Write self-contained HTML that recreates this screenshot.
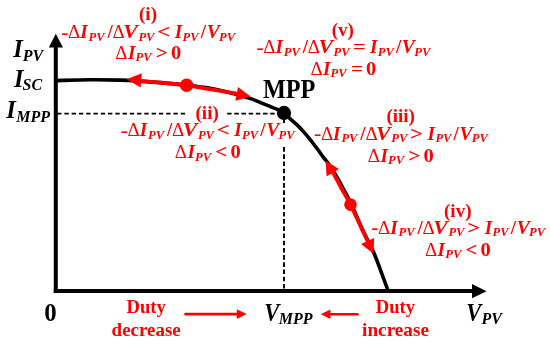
<!DOCTYPE html>
<html><head><meta charset="utf-8"><title>MPPT duty cycle regions</title>
<style>
html,body{margin:0;padding:0;background:#fff;width:550px;height:343px;overflow:hidden}
svg{display:block}
text{font-family:"Liberation Serif","Times New Roman",serif}
</style></head><body>
<svg width="550" height="343" viewBox="0 0 550 343">
<rect width="550" height="343" fill="#fff"/>
<line x1="57.1" y1="113.6" x2="186.2" y2="113.6" stroke="#000" stroke-width="1.9" stroke-dasharray="4.4 2.87"/>
<line x1="227.1" y1="113.6" x2="284" y2="113.6" stroke="#000" stroke-width="1.9" stroke-dasharray="4.5 2.68"/>
<line x1="284.0" y1="118.3" x2="284.0" y2="290" stroke="#000" stroke-width="1.9" stroke-dasharray="4.6 2.6"/>
<rect x="276" y="123.8" width="18" height="22.2" fill="#fff"/>
<line x1="55.8" y1="293.1" x2="55.8" y2="46" stroke="#000" stroke-width="4"/>
<polygon points="55.8,33.8 48.8,47.6 63,47.6" fill="#000"/>
<line x1="53.8" y1="291.1" x2="474" y2="291.1" stroke="#000" stroke-width="4"/>
<polygon points="486.6,291.2 472,283.9 472,298.3" fill="#000"/>
<path d="M55.80,80.60 C61.50,80.47 79.30,79.88 90.00,79.80 C100.70,79.72 111.67,79.88 120.00,80.10 C128.33,80.32 133.33,80.68 140.00,81.10 C146.67,81.52 152.23,81.92 160.00,82.60 C167.77,83.28 178.27,84.25 186.60,85.20 C194.93,86.15 202.77,87.03 210.00,88.30 C217.23,89.57 223.25,91.08 230.00,92.80 C236.75,94.52 245.17,96.87 250.50,98.60 C255.83,100.33 257.75,101.48 262.00,103.20 C266.25,104.92 272.33,107.27 276.00,108.90 C279.67,110.53 281.67,111.38 284.00,113.00 C286.33,114.62 287.92,116.70 290.00,118.60 C292.08,120.50 294.25,122.23 296.50,124.40 C298.75,126.57 301.22,129.07 303.50,131.60 C305.78,134.13 307.95,136.78 310.20,139.60 C312.45,142.42 314.80,145.55 317.00,148.50 C319.20,151.45 321.53,154.82 323.40,157.30 C325.27,159.78 326.05,160.28 328.20,163.40 C330.35,166.52 333.67,171.57 336.30,176.00 C338.93,180.43 341.47,185.25 344.00,190.00 C346.53,194.75 348.50,198.08 351.50,204.50 C354.50,210.92 358.32,220.53 362.00,228.50 C365.68,236.47 370.53,245.42 373.60,252.30 C376.67,259.18 378.00,263.43 380.40,269.80 C382.80,276.17 386.73,287.05 388.00,290.50" fill="none" stroke="#000" stroke-width="3.6"/>
<circle cx="284" cy="112.9" r="7.1" fill="#000"/>
<path d="M140.00,81.00 C144.17,81.33 157.23,82.27 165.00,83.00 C172.77,83.73 178.93,84.33 186.60,85.40 C194.27,86.47 202.43,87.98 211.00,89.40 C219.57,90.82 233.50,93.15 238.00,93.90" fill="none" stroke="#ff0000" stroke-width="3.8"/>
<polygon points="126.60,79.30 141.69,73.22 140.71,87.38" fill="#ff0000"/>
<polygon points="250.60,96.50 235.37,100.67 238.03,86.93" fill="#ff0000"/>
<circle cx="186.6" cy="85.2" r="6.7" fill="#ff0000"/>
<path d="M332.50,171.50 C333.92,174.17 338.00,181.98 341.00,187.50 C344.00,193.02 347.25,198.18 350.50,204.60 C353.75,211.02 357.50,219.60 360.50,226.00 C363.50,232.40 367.17,240.17 368.50,243.00" fill="none" stroke="#ff0000" stroke-width="3.8"/>
<polygon points="325.60,160.80 338.97,169.10 326.63,176.50" fill="#ff0000"/>
<polygon points="373.50,253.80 361.05,243.89 374.15,237.91" fill="#ff0000"/>
<circle cx="350.5" cy="204.6" r="6.3" fill="#ff0000"/>
<line x1="185.4" y1="314.1" x2="238" y2="314.1" stroke="#ff0000" stroke-width="2.6" stroke-linecap="round"/>
<polygon points="246.6,314.1 236.8,309.3 236.8,318.9" fill="#ff0000"/>
<line x1="329" y1="314.2" x2="357.6" y2="314.2" stroke="#ff0000" stroke-width="2.5" stroke-linecap="round"/>
<polygon points="320.8,314.2 330.4,309.5 330.4,318.9" fill="#ff0000"/>
<text x="13.14" y="57.40" font-size="24.50" font-weight="bold" font-style="italic" fill="#000">I</text>
<text x="22.80" y="60.60" font-size="16.00" font-weight="bold" font-style="italic" fill="#000">PV</text>
<text x="13.94" y="87.20" font-size="24.50" font-weight="bold" font-style="italic" fill="#000">I</text>
<text x="22.51" y="90.20" font-size="16.00" font-weight="bold" font-style="italic" fill="#000">SC</text>
<text x="6.34" y="118.30" font-size="24.50" font-weight="bold" font-style="italic" fill="#000">I</text>
<text x="16.31" y="121.70" font-size="16.00" font-weight="bold" font-style="italic" fill="#000">MPP</text>
<text transform="translate(262.89,97.75) scale(0.916,1)" font-size="26.50" font-weight="bold" fill="#000">MPP</text>
<text transform="translate(44.15,321.10) scale(0.957,1)" font-size="26.00" font-weight="bold" fill="#000">0</text>
<text transform="translate(264.17,320.70) scale(0.870,1)" font-size="26.00" font-weight="bold" font-style="italic" fill="#000">V</text>
<text x="278.71" y="324.40" font-size="16.00" font-weight="bold" font-style="italic" fill="#000">MPP</text>
<text transform="translate(466.37,320.65) scale(0.870,1)" font-size="26.00" font-weight="bold" font-style="italic" fill="#000">V</text>
<text transform="translate(481.40,324.30) scale(0.957,1)" font-size="16.70" font-weight="bold" font-style="italic" fill="#000">PV</text>
<text x="139.06" y="19.60" font-size="19.00" font-weight="bold" fill="#ff0000">(i)</text>
<text transform="translate(61.19,38.60) scale(1.150,1)" font-size="19.00" font-weight="bold" fill="#ff0000">-</text>
<text x="68.08" y="38.00" font-size="19.00" font-weight="normal" fill="#ff0000">Δ</text>
<text x="80.19" y="38.00" font-size="19.00" font-weight="bold" font-style="italic" fill="#ff0000">I</text>
<text x="88.60" y="40.50" font-size="12.60" font-weight="bold" font-style="italic" fill="#ff0000">PV</text>
<text x="107.49" y="38.00" font-size="19.00" font-weight="bold" fill="#ff0000">/</text>
<text x="112.58" y="38.00" font-size="19.00" font-weight="normal" fill="#ff0000">Δ</text>
<text transform="translate(123.21,38.00) scale(1.150,1)" font-size="19.00" font-weight="bold" font-style="italic" fill="#ff0000">V</text>
<text x="138.40" y="40.50" font-size="12.60" font-weight="bold" font-style="italic" fill="#ff0000">PV</text>
<text transform="translate(157.28,38.00) scale(1.200,1)" font-size="19.00" font-weight="bold" fill="#ff0000">&lt;</text>
<text x="174.69" y="38.00" font-size="19.00" font-weight="bold" font-style="italic" fill="#ff0000">I</text>
<text x="182.60" y="40.50" font-size="12.60" font-weight="bold" font-style="italic" fill="#ff0000">PV</text>
<text x="200.79" y="38.00" font-size="19.00" font-weight="bold" fill="#ff0000">/</text>
<text transform="translate(206.65,38.00) scale(1.030,1)" font-size="19.00" font-weight="bold" font-style="italic" fill="#ff0000">V</text>
<text x="219.00" y="40.50" font-size="12.60" font-weight="bold" font-style="italic" fill="#ff0000">PV</text>
<text x="115.28" y="58.90" font-size="19.00" font-weight="normal" fill="#ff0000">Δ</text>
<text x="127.89" y="58.90" font-size="19.00" font-weight="bold" font-style="italic" fill="#ff0000">I</text>
<text x="135.50" y="61.40" font-size="12.60" font-weight="bold" font-style="italic" fill="#ff0000">PV</text>
<text transform="translate(155.67,58.90) scale(1.120,1)" font-size="19.00" font-weight="bold" fill="#ff0000">&gt;</text>
<text transform="translate(170.92,58.90) scale(1.080,1)" font-size="19.00" font-weight="bold" fill="#ff0000">0</text>
<text x="195.56" y="119.20" font-size="19.00" font-weight="bold" fill="#ff0000">(ii)</text>
<text transform="translate(120.69,136.90) scale(1.150,1)" font-size="19.00" font-weight="bold" fill="#ff0000">-</text>
<text x="127.58" y="136.30" font-size="19.00" font-weight="normal" fill="#ff0000">Δ</text>
<text x="139.69" y="136.30" font-size="19.00" font-weight="bold" font-style="italic" fill="#ff0000">I</text>
<text x="148.10" y="138.80" font-size="12.60" font-weight="bold" font-style="italic" fill="#ff0000">PV</text>
<text x="166.99" y="136.30" font-size="19.00" font-weight="bold" fill="#ff0000">/</text>
<text x="172.08" y="136.30" font-size="19.00" font-weight="normal" fill="#ff0000">Δ</text>
<text transform="translate(182.71,136.30) scale(1.150,1)" font-size="19.00" font-weight="bold" font-style="italic" fill="#ff0000">V</text>
<text x="197.90" y="138.80" font-size="12.60" font-weight="bold" font-style="italic" fill="#ff0000">PV</text>
<text transform="translate(216.78,136.30) scale(1.200,1)" font-size="19.00" font-weight="bold" fill="#ff0000">&lt;</text>
<text x="234.19" y="136.30" font-size="19.00" font-weight="bold" font-style="italic" fill="#ff0000">I</text>
<text x="242.10" y="138.80" font-size="12.60" font-weight="bold" font-style="italic" fill="#ff0000">PV</text>
<text x="260.29" y="136.30" font-size="19.00" font-weight="bold" fill="#ff0000">/</text>
<text transform="translate(266.15,136.30) scale(1.030,1)" font-size="19.00" font-weight="bold" font-style="italic" fill="#ff0000">V</text>
<text x="278.50" y="138.80" font-size="12.60" font-weight="bold" font-style="italic" fill="#ff0000">PV</text>
<text x="174.78" y="158.00" font-size="19.00" font-weight="normal" fill="#ff0000">Δ</text>
<text x="187.39" y="158.00" font-size="19.00" font-weight="bold" font-style="italic" fill="#ff0000">I</text>
<text x="195.00" y="160.50" font-size="12.60" font-weight="bold" font-style="italic" fill="#ff0000">PV</text>
<text transform="translate(215.17,158.00) scale(1.120,1)" font-size="19.00" font-weight="bold" fill="#ff0000">&lt;</text>
<text transform="translate(230.42,158.00) scale(1.080,1)" font-size="19.00" font-weight="bold" fill="#ff0000">0</text>
<text x="386.46" y="121.90" font-size="19.00" font-weight="bold" fill="#ff0000">(iii)</text>
<text transform="translate(313.99,140.40) scale(1.150,1)" font-size="19.00" font-weight="bold" fill="#ff0000">-</text>
<text x="320.88" y="139.80" font-size="19.00" font-weight="normal" fill="#ff0000">Δ</text>
<text x="332.99" y="139.80" font-size="19.00" font-weight="bold" font-style="italic" fill="#ff0000">I</text>
<text x="341.40" y="142.30" font-size="12.60" font-weight="bold" font-style="italic" fill="#ff0000">PV</text>
<text x="360.29" y="139.80" font-size="19.00" font-weight="bold" fill="#ff0000">/</text>
<text x="365.38" y="139.80" font-size="19.00" font-weight="normal" fill="#ff0000">Δ</text>
<text transform="translate(376.01,139.80) scale(1.150,1)" font-size="19.00" font-weight="bold" font-style="italic" fill="#ff0000">V</text>
<text x="391.20" y="142.30" font-size="12.60" font-weight="bold" font-style="italic" fill="#ff0000">PV</text>
<text transform="translate(410.08,139.80) scale(1.200,1)" font-size="19.00" font-weight="bold" fill="#ff0000">&gt;</text>
<text x="427.49" y="139.80" font-size="19.00" font-weight="bold" font-style="italic" fill="#ff0000">I</text>
<text x="435.40" y="142.30" font-size="12.60" font-weight="bold" font-style="italic" fill="#ff0000">PV</text>
<text x="453.59" y="139.80" font-size="19.00" font-weight="bold" fill="#ff0000">/</text>
<text transform="translate(459.45,139.80) scale(1.030,1)" font-size="19.00" font-weight="bold" font-style="italic" fill="#ff0000">V</text>
<text x="471.80" y="142.30" font-size="12.60" font-weight="bold" font-style="italic" fill="#ff0000">PV</text>
<text x="367.78" y="161.50" font-size="19.00" font-weight="normal" fill="#ff0000">Δ</text>
<text x="380.39" y="161.50" font-size="19.00" font-weight="bold" font-style="italic" fill="#ff0000">I</text>
<text x="388.00" y="164.00" font-size="12.60" font-weight="bold" font-style="italic" fill="#ff0000">PV</text>
<text transform="translate(408.17,161.50) scale(1.120,1)" font-size="19.00" font-weight="bold" fill="#ff0000">&gt;</text>
<text transform="translate(423.42,161.50) scale(1.080,1)" font-size="19.00" font-weight="bold" fill="#ff0000">0</text>
<text x="444.06" y="217.10" font-size="19.00" font-weight="bold" fill="#ff0000">(iv)</text>
<text transform="translate(371.19,234.40) scale(1.150,1)" font-size="19.00" font-weight="bold" fill="#ff0000">-</text>
<text x="378.08" y="233.80" font-size="19.00" font-weight="normal" fill="#ff0000">Δ</text>
<text x="390.19" y="233.80" font-size="19.00" font-weight="bold" font-style="italic" fill="#ff0000">I</text>
<text x="398.60" y="236.30" font-size="12.60" font-weight="bold" font-style="italic" fill="#ff0000">PV</text>
<text x="417.49" y="233.80" font-size="19.00" font-weight="bold" fill="#ff0000">/</text>
<text x="422.58" y="233.80" font-size="19.00" font-weight="normal" fill="#ff0000">Δ</text>
<text transform="translate(433.21,233.80) scale(1.150,1)" font-size="19.00" font-weight="bold" font-style="italic" fill="#ff0000">V</text>
<text x="448.40" y="236.30" font-size="12.60" font-weight="bold" font-style="italic" fill="#ff0000">PV</text>
<text transform="translate(467.28,233.80) scale(1.200,1)" font-size="19.00" font-weight="bold" fill="#ff0000">&gt;</text>
<text x="484.69" y="233.80" font-size="19.00" font-weight="bold" font-style="italic" fill="#ff0000">I</text>
<text x="492.60" y="236.30" font-size="12.60" font-weight="bold" font-style="italic" fill="#ff0000">PV</text>
<text x="510.79" y="233.80" font-size="19.00" font-weight="bold" fill="#ff0000">/</text>
<text transform="translate(516.65,233.80) scale(1.030,1)" font-size="19.00" font-weight="bold" font-style="italic" fill="#ff0000">V</text>
<text x="529.00" y="236.30" font-size="12.60" font-weight="bold" font-style="italic" fill="#ff0000">PV</text>
<text x="424.98" y="255.90" font-size="19.00" font-weight="normal" fill="#ff0000">Δ</text>
<text x="437.59" y="255.90" font-size="19.00" font-weight="bold" font-style="italic" fill="#ff0000">I</text>
<text x="445.20" y="258.40" font-size="12.60" font-weight="bold" font-style="italic" fill="#ff0000">PV</text>
<text transform="translate(465.37,255.90) scale(1.120,1)" font-size="19.00" font-weight="bold" fill="#ff0000">&lt;</text>
<text transform="translate(480.62,255.90) scale(1.080,1)" font-size="19.00" font-weight="bold" fill="#ff0000">0</text>
<text x="331.66" y="35.50" font-size="19.00" font-weight="bold" fill="#ff0000">(v)</text>
<text transform="translate(256.39,53.60) scale(1.150,1)" font-size="19.00" font-weight="bold" fill="#ff0000">-</text>
<text x="263.28" y="53.00" font-size="19.00" font-weight="normal" fill="#ff0000">Δ</text>
<text x="275.39" y="53.00" font-size="19.00" font-weight="bold" font-style="italic" fill="#ff0000">I</text>
<text x="283.80" y="55.50" font-size="12.60" font-weight="bold" font-style="italic" fill="#ff0000">PV</text>
<text x="302.69" y="53.00" font-size="19.00" font-weight="bold" fill="#ff0000">/</text>
<text x="307.78" y="53.00" font-size="19.00" font-weight="normal" fill="#ff0000">Δ</text>
<text transform="translate(318.41,53.00) scale(1.150,1)" font-size="19.00" font-weight="bold" font-style="italic" fill="#ff0000">V</text>
<text x="333.60" y="55.50" font-size="12.60" font-weight="bold" font-style="italic" fill="#ff0000">PV</text>
<text transform="translate(352.66,53.00) scale(1.200,1)" font-size="19.00" font-weight="bold" fill="#ff0000">=</text>
<text x="369.89" y="53.00" font-size="19.00" font-weight="bold" font-style="italic" fill="#ff0000">I</text>
<text x="377.80" y="55.50" font-size="12.60" font-weight="bold" font-style="italic" fill="#ff0000">PV</text>
<text x="395.99" y="53.00" font-size="19.00" font-weight="bold" fill="#ff0000">/</text>
<text transform="translate(401.85,53.00) scale(1.030,1)" font-size="19.00" font-weight="bold" font-style="italic" fill="#ff0000">V</text>
<text x="414.20" y="55.50" font-size="12.60" font-weight="bold" font-style="italic" fill="#ff0000">PV</text>
<text x="310.38" y="74.90" font-size="19.00" font-weight="normal" fill="#ff0000">Δ</text>
<text x="322.99" y="74.90" font-size="19.00" font-weight="bold" font-style="italic" fill="#ff0000">I</text>
<text x="330.60" y="77.40" font-size="12.60" font-weight="bold" font-style="italic" fill="#ff0000">PV</text>
<text transform="translate(350.94,74.90) scale(1.120,1)" font-size="19.00" font-weight="bold" fill="#ff0000">=</text>
<text transform="translate(366.02,74.90) scale(1.080,1)" font-size="19.00" font-weight="bold" fill="#ff0000">0</text>
<text x="126.57" y="312.90" font-size="18.60" font-weight="bold" fill="#ff0000">Duty</text>
<text transform="translate(111.62,335.60) scale(1.020,1)" font-size="18.60" font-weight="bold" fill="#ff0000">decrease</text>
<text x="375.77" y="312.90" font-size="18.60" font-weight="bold" fill="#ff0000">Duty</text>
<text transform="translate(362.08,335.60) scale(1.035,1)" font-size="18.60" font-weight="bold" fill="#ff0000">increase</text>
</svg>
</body></html>
